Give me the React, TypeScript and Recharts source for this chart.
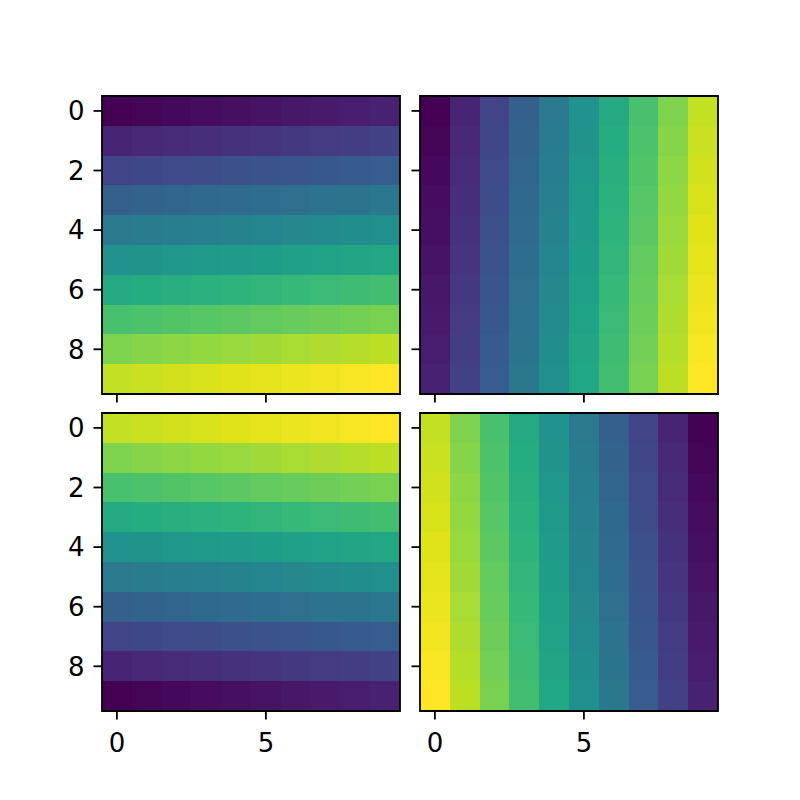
import React from 'react';
import { ScatterChart, Scatter, XAxis, YAxis, ReferenceArea } from 'recharts';

// 10x10 image values, one array per panel (row 0 at the top)
const topLeftGrid = [
  [0, 1, 2, 3, 4, 5, 6, 7, 8, 9],
  [10, 11, 12, 13, 14, 15, 16, 17, 18, 19],
  [20, 21, 22, 23, 24, 25, 26, 27, 28, 29],
  [30, 31, 32, 33, 34, 35, 36, 37, 38, 39],
  [40, 41, 42, 43, 44, 45, 46, 47, 48, 49],
  [50, 51, 52, 53, 54, 55, 56, 57, 58, 59],
  [60, 61, 62, 63, 64, 65, 66, 67, 68, 69],
  [70, 71, 72, 73, 74, 75, 76, 77, 78, 79],
  [80, 81, 82, 83, 84, 85, 86, 87, 88, 89],
  [90, 91, 92, 93, 94, 95, 96, 97, 98, 99],
];

const topRightGrid = [
  [0, 10, 20, 30, 40, 50, 60, 70, 80, 90],
  [1, 11, 21, 31, 41, 51, 61, 71, 81, 91],
  [2, 12, 22, 32, 42, 52, 62, 72, 82, 92],
  [3, 13, 23, 33, 43, 53, 63, 73, 83, 93],
  [4, 14, 24, 34, 44, 54, 64, 74, 84, 94],
  [5, 15, 25, 35, 45, 55, 65, 75, 85, 95],
  [6, 16, 26, 36, 46, 56, 66, 76, 86, 96],
  [7, 17, 27, 37, 47, 57, 67, 77, 87, 97],
  [8, 18, 28, 38, 48, 58, 68, 78, 88, 98],
  [9, 19, 29, 39, 49, 59, 69, 79, 89, 99],
];

const bottomLeftGrid = [
  [90, 91, 92, 93, 94, 95, 96, 97, 98, 99],
  [80, 81, 82, 83, 84, 85, 86, 87, 88, 89],
  [70, 71, 72, 73, 74, 75, 76, 77, 78, 79],
  [60, 61, 62, 63, 64, 65, 66, 67, 68, 69],
  [50, 51, 52, 53, 54, 55, 56, 57, 58, 59],
  [40, 41, 42, 43, 44, 45, 46, 47, 48, 49],
  [30, 31, 32, 33, 34, 35, 36, 37, 38, 39],
  [20, 21, 22, 23, 24, 25, 26, 27, 28, 29],
  [10, 11, 12, 13, 14, 15, 16, 17, 18, 19],
  [0, 1, 2, 3, 4, 5, 6, 7, 8, 9],
];

const bottomRightGrid = [
  [90, 80, 70, 60, 50, 40, 30, 20, 10, 0],
  [91, 81, 71, 61, 51, 41, 31, 21, 11, 1],
  [92, 82, 72, 62, 52, 42, 32, 22, 12, 2],
  [93, 83, 73, 63, 53, 43, 33, 23, 13, 3],
  [94, 84, 74, 64, 54, 44, 34, 24, 14, 4],
  [95, 85, 75, 65, 55, 45, 35, 25, 15, 5],
  [96, 86, 76, 66, 56, 46, 36, 26, 16, 6],
  [97, 87, 77, 67, 57, 47, 37, 27, 17, 7],
  [98, 88, 78, 68, 58, 48, 38, 28, 18, 8],
  [99, 89, 79, 69, 59, 49, 39, 29, 19, 9],
];

const xTicks = [0, 5];
const yTicks = [0, 2, 4, 6, 8];
const valueMin = 0;
const valueMax = 99;

// viridis colormap stops
const viridis = [
  '#440154', '#471365', '#482475', '#463480', '#414487', '#3b528b', '#355f8d',
  '#2f6c8e', '#2a788e', '#25848e', '#21918c', '#1e9c89', '#22a884', '#2fb47c',
  '#44bf70', '#5ec962', '#7ad151', '#9bd93c', '#bddf26', '#dfe318', '#fde725',
];

const hexToRgb = (h: string) => [1, 3, 5].map((i) => parseInt(h.slice(i, i + 2), 16));

const colorFor = (v: number) => {
  const t = Math.min(1, Math.max(0, (v - valueMin) / (valueMax - valueMin)));
  const pos = t * (viridis.length - 1);
  const i = Math.min(viridis.length - 2, Math.floor(pos));
  const f = pos - i;
  const a = hexToRgb(viridis[i]);
  const b = hexToRgb(viridis[i + 1]);
  const c = a.map((ch, k) => Math.round(ch + (b[k] - ch) * f));
  return `rgb(${c[0]},${c[1]},${c[2]})`;
};

const FONT = 'DejaVu Sans';
const Y_AXIS_W = 70;
const X_AXIS_H = 60;

interface PanelProps {
  grid: number[][];
  left: number;
  top: number;
  size: number;
  showX: boolean;
  showY: boolean;
}

const Panel: React.FC<PanelProps> = ({ grid, left, top, size, showX, showY }) => {
  const cells = grid.flatMap((row, r) => row.map((v, c) => ({ x: c, y: r, v })));
  return (
    <div style={{ position: 'absolute', left: 0, top: 0 }}>
      <ScatterChart
        width={800}
        height={800}
        margin={{
          top,
          left: left - Y_AXIS_W,
          right: 800 - left - size,
          bottom: 800 - top - size - X_AXIS_H,
        }}
      >
        <XAxis
          type="number"
          dataKey="x"
          domain={[-0.5, 9.5]}
          ticks={xTicks}
          allowDataOverflow
          height={X_AXIS_H}
          axisLine={false}
          tickSize={8.5}
          tickMargin={14}
          tickLine={{ stroke: '#000', strokeWidth: 1.8 }}
          tick={{ fill: '#000', fontSize: 26, fontFamily: FONT }}
          tickFormatter={(t: number) => (showX ? String(t) : '')}
        />
        <YAxis
          type="number"
          dataKey="y"
          domain={[-0.5, 9.5]}
          reversed
          ticks={yTicks}
          allowDataOverflow
          width={Y_AXIS_W}
          axisLine={false}
          tickSize={8.5}
          tickMargin={9}
          tickLine={{ stroke: '#000', strokeWidth: 1.8 }}
          tick={{ fill: '#000', fontSize: 26, fontFamily: FONT }}
          tickFormatter={(t: number) => (showY ? String(t) : '')}
        />
        {cells.map((cell) => (
          <ReferenceArea
            key={`${cell.x}-${cell.y}`}
            x1={cell.x - 0.5}
            x2={cell.x + 0.5}
            y1={cell.y - 0.5}
            y2={cell.y + 0.5}
            fill={colorFor(cell.v)}
            fillOpacity={1}
            stroke="none"
            shapeRendering="crispEdges"
            ifOverflow="visible"
          />
        ))}
        <ReferenceArea
          x1={-0.5}
          x2={9.5}
          y1={-0.5}
          y2={9.5}
          fill="none"
          stroke="#000"
          strokeWidth={1.8}
          ifOverflow="visible"
        />
        <Scatter data={cells} isAnimationActive={false} shape={() => <g />} />
      </ScatterChart>
    </div>
  );
};

const App: React.FC = () => (
  <div style={{ position: 'absolute', left: 0, top: 0, width: 800, height: 800, background: '#fff' }}>
    <Panel grid={topLeftGrid} left={102} top={96} size={298} showX={false} showY={true} />
    <Panel grid={topRightGrid} left={420} top={96} size={298} showX={false} showY={false} />
    <Panel grid={bottomLeftGrid} left={102} top={413} size={298} showX={true} showY={true} />
    <Panel grid={bottomRightGrid} left={420} top={413} size={298} showX={true} showY={false} />
  </div>
);

export default App;
